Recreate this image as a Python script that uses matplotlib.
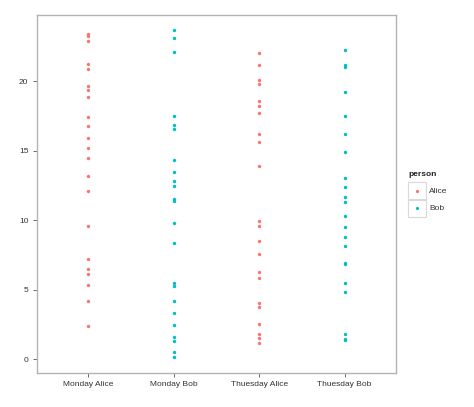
import matplotlib
matplotlib.use("Agg")
import matplotlib.pyplot as plt
from matplotlib.patches import Rectangle

plt.rcParams["font.family"] = ["Liberation Sans", "DejaVu Sans"]

categories = ["Monday Alice", "Monday Bob", "Thuesday Alice", "Thuesday Bob"]
person = ["Alice", "Bob", "Alice", "Bob"]

monday_alice = [23.35, 23.25, 22.85, 21.24, 20.89, 19.64, 19.33, 18.88, 17.42,
                16.79, 15.93, 15.22, 14.45, 13.16, 12.13, 9.59, 7.22, 6.46,
                6.12, 5.36, 4.16, 2.42]
monday_bob = [23.64, 23.13, 22.11, 17.51, 16.87, 16.53, 14.31, 13.49, 12.78,
              12.46, 11.51, 11.39, 9.76, 8.37, 5.50, 5.29, 4.16, 3.35, 2.49,
              1.63, 1.34, 0.55, 0.19]
thuesday_alice = [22.03, 21.17, 20.05, 19.76, 18.56, 18.23, 17.70, 16.17, 15.62,
                  13.88, 9.93, 9.57, 8.49, 7.54, 6.29, 5.81, 4.07, 3.76, 2.56,
                  1.84, 1.51, 1.20]
thuesday_bob = [22.25, 21.17, 21.00, 19.21, 17.46, 16.22, 14.90, 13.06, 12.39,
                11.63, 11.27, 10.33, 9.52, 8.80, 8.16, 6.94, 6.84, 5.48, 4.83,
                1.79, 1.46, 1.39]

values = [monday_alice, monday_bob, thuesday_alice, thuesday_bob]
colors = {"Alice": "#F8766D", "Bob": "#00BFC4"}

W, H = 474, 407
fig = plt.figure(figsize=(W / 100, H / 100), dpi=100)
ax = fig.add_axes([36.7 / W, 1 - 372.7 / H, (396 - 36.7) / W, (372.7 - 14.7) / H])

for i, (vals, p) in enumerate(zip(values, person)):
    ax.scatter([i + 1] * len(vals), vals, s=6, color=colors[p], linewidths=0, zorder=3)

ax.set_xlim(0.4, 4.6)
ax.set_ylim(-0.97, 24.77)
ax.set_xticks(range(1, 5))
ax.set_xticklabels(categories)
ax.set_yticks([0, 5, 10, 15, 20])
ax.tick_params(length=3, width=0.6, color="#555555", labelsize=6,
               labelcolor="#333333", pad=3)
for s in ax.spines.values():
    s.set_color("#b3b3b3")
    s.set_linewidth(1.0)

# legend drawn by hand to mimic the ggplot key boxes
fig.text(408 / W, 1 - 175 / H, "person", fontsize=6, fontweight="bold",
         ha="left", va="center", color="#222222")
for k, name in enumerate(["Alice", "Bob"]):
    top = 182 + k * 17.5
    fig.patches.append(Rectangle((408 / W, 1 - (top + 17.5) / H), 18 / W, 17.5 / H,
                                 transform=fig.transFigure, facecolor="white",
                                 edgecolor="#d9d9d9", linewidth=0.8))
    fig.lines.append(plt.Line2D([417 / W], [1 - (top + 8.75) / H],
                                transform=fig.transFigure, marker="o",
                                markersize=2.3, color=colors[name],
                                markeredgewidth=0, linestyle="none"))
    fig.text(429 / W, 1 - (top + 9) / H, name, fontsize=6, ha="left",
             va="center", color="#333333")

fig.savefig("out.png", dpi=100)
